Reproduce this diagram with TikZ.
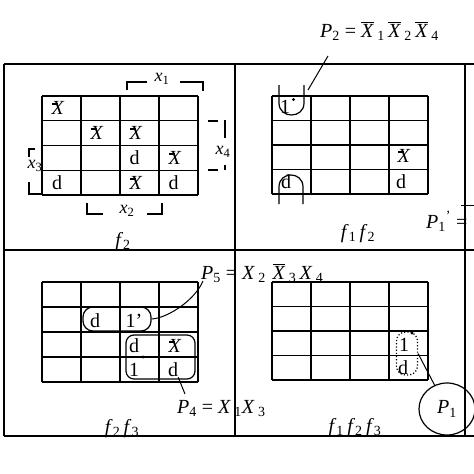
\documentclass[tikz,border=0pt]{standalone}
\usepackage{fontspec}
\setmainfont{Liberation Serif}
\usetikzlibrary{shapes.geometric}
\newcommand\subx[1]{\textsubscript{#1}}
\newcommand\Xb{$\overline{\mbox{\textit{X}}}$}
\newcommand\xx{\textit{X}\llap{\rule[0.5em]{0.3em}{0.08em}\hspace{0.32em}}}
\tikzset{
  frame/.style={line width=1.2pt},
  gridl/.style={line width=1.3pt},
  cell/.style={font=\fontsize{20}{22}\selectfont, inner sep=0pt},
  lab/.style={font=\fontsize{20}{22}\selectfont, inner sep=0pt, anchor=base west},
  flab/.style={font=\fontsize{20}{22}\selectfont, inner sep=0pt, anchor=base},
  xlab/.style={font=\fontsize{18}{20}\selectfont, inner sep=0pt},
  brk/.style={line width=1.2pt},
  loopl/.style={line width=1.2pt},
  ptr/.style={line width=1pt},
}
\newcommand\kmap[3]{%
  \foreach \i in {0,...,4} {
    \draw[gridl] ({#1+39*\i},#2) -- ({#1+39*\i},{#2+#3});
    \draw[gridl] (#1,{#2+#3*\i/4}) -- ({#1+156},{#2+#3*\i/4});
  }}
\begin{document}
\begin{tikzpicture}[x=1pt,y=-1pt]
\path[use as bounding box] (0,0) rectangle (474,474);
\clip (0,0) rectangle (474,474);
% frame
\draw[frame] (4,64) -- (474,64);
\draw[frame] (4,250) -- (474,250);
\draw[frame] (4,436) -- (474,436);
\draw[frame] (4,64) -- (4,436);
\draw[frame] (235,64) -- (235,436);
\draw[frame] (465,64) -- (465,436);
% grids
\kmap{42}{96}{99}
\kmap{272}{96}{98}
\kmap{42}{282}{100}
\kmap{272}{282}{98}
\draw[line width=2pt] (389,357) -- (389,380);

% ---- f2 map
\node[cell] (a11) at (58,108) {\xx};
\node[cell] (a22) at (97,133) {\xx};
\node[cell] (a23) at (136,133) {\xx};
\node[cell] (a33) at (134.5,158) {d};
\node[cell] (a34) at (175,158) {\xx};
\node[cell] (a41) at (57,183) {d};
\node[cell] (a43) at (136,183) {\xx};
\node[cell] (a44) at (173.5,183) {d};
% brackets
\draw[brk] (127,90) -- (127,82) -- (147,82);
\draw[brk] (180,82) -- (203,82) -- (203,91);
\node[xlab] (x1) at (162,79) {\textit{x}\subx{1}};
\draw[brk] (208,121) -- (218,121);
\draw[brk] (225,120) -- (225,138);
\node[xlab] (x4) at (223,152) {\textit{x}\subx{4}};
\draw[brk] (208,170) -- (218,170);
\draw[brk] (225,165) -- (225,170);
\draw[brk] (35,149) -- (29,149) -- (29,157);
\node[xlab] (x3) at (35,166) {\textit{x}\subx{3}};
\draw[brk] (29,182) -- (29,194) -- (42,194);
\draw[brk] (87,203) -- (87,214) -- (103,214);
\node[xlab] (x2) at (127,211) {\textit{x}\subx{2}};
\draw[brk] (147,214) -- (162,214) -- (162,203);
\node[flab] (f2) at (123,246) {\textit{f}\subx{2}};

% ---- f1f2 map
\node[cell] (b11) at (285,107) {1};
\fill (293.5,99.5) circle (1.7);
\node[cell] (b34) at (404,156) {\xx};
\node[cell] (b41) at (286,182) {d};
\node[cell] (b44) at (401,182) {d};
\draw[loopl] (279,85) -- (279,103) .. controls (279,119) and (304,119) .. (304,103) -- (304,85);
\coordinate (u1) at (308,90);
\draw[loopl] (279,204) -- (279,187) .. controls (279,171) and (303,171) .. (303,187) -- (303,204);
\node[lab] (p2) at (320,37) {\textit{P}\subx{2} = \Xb\,\subx{1}\,\Xb\,\subx{2}\,\Xb\,\subx{4}};
\coordinate (p2foot) at (328,56);
\draw[ptr] (u1) -- (p2foot);
\node[flab] (f12) at (358,238) {\textit{f}\subx{1}\,\textit{f}\subx{2}};
\node[lab] (p1p) at (426,228) {\textit{P}\subx{1}\textsuperscript{’} =};
\draw[line width=1pt] (461,205) -- (474,205);

% ---- f2f3 map
\node[cell] (c22) at (95,321) {d};
\node[cell] (c23) at (134,321) {1’};
\node[cell] (c33) at (134,346) {d};
\node[cell] (c34) at (175,346) {\xx};
\node[cell] (c43) at (134,370) {1};
\fill (143,357) circle (1.7);
\node[cell] (c44) at (173,370) {d};
\node[draw, loopl, rounded corners=10, minimum width=68, minimum height=24] (g5) at (117,319) {};
\node[draw, loopl, rounded corners=8, minimum width=69, minimum height=44] (g4) at (160.5,357) {};
\node[lab] (p5) at (201,279) {\textit{P}\subx{5} = \textit{X}\,\subx{2}\,\,\Xb\,\subx{3}\,\textit{X}\,\subx{4}};
\coordinate (p5foot) at (203,281);
\draw[ptr] (g5.east) .. controls (168,318) and (195,300) .. (p5foot);
\node[lab] (p4) at (177,413) {\textit{P}\subx{4} = \textit{X}\,\subx{1}\textit{X}\,\subx{3}};
\coordinate (p4top) at (185,394);
\draw[ptr] (c44.south east) -- (p4top);
\node[flab] (f23) at (122,433) {\textit{f}\subx{2}\,\textit{f}\subx{3}};

% ---- f1f2f3 map
\node[cell] (d34) at (404,345) {1};
\fill (412,333) circle (1.7);
\node[cell] (d44) at (403,368) {d};
\node[draw, loopl, dotted, rounded corners=9, minimum width=21, minimum height=43] (g1) at (407,353.5) {};
\node[draw, loopl, ellipse, minimum width=56, minimum height=52, inner sep=0pt, font=\fontsize{20}{22}\selectfont] (p1) at (447,409) {\textit{P}\subx{1}};
\draw[ptr] (g1.east) -- (p1);
\node[flab] (f123) at (355,432) {\textit{f}\subx{1}\,\textit{f}\subx{2}\,\textit{f}\subx{3}};
\end{tikzpicture}
\end{document}
